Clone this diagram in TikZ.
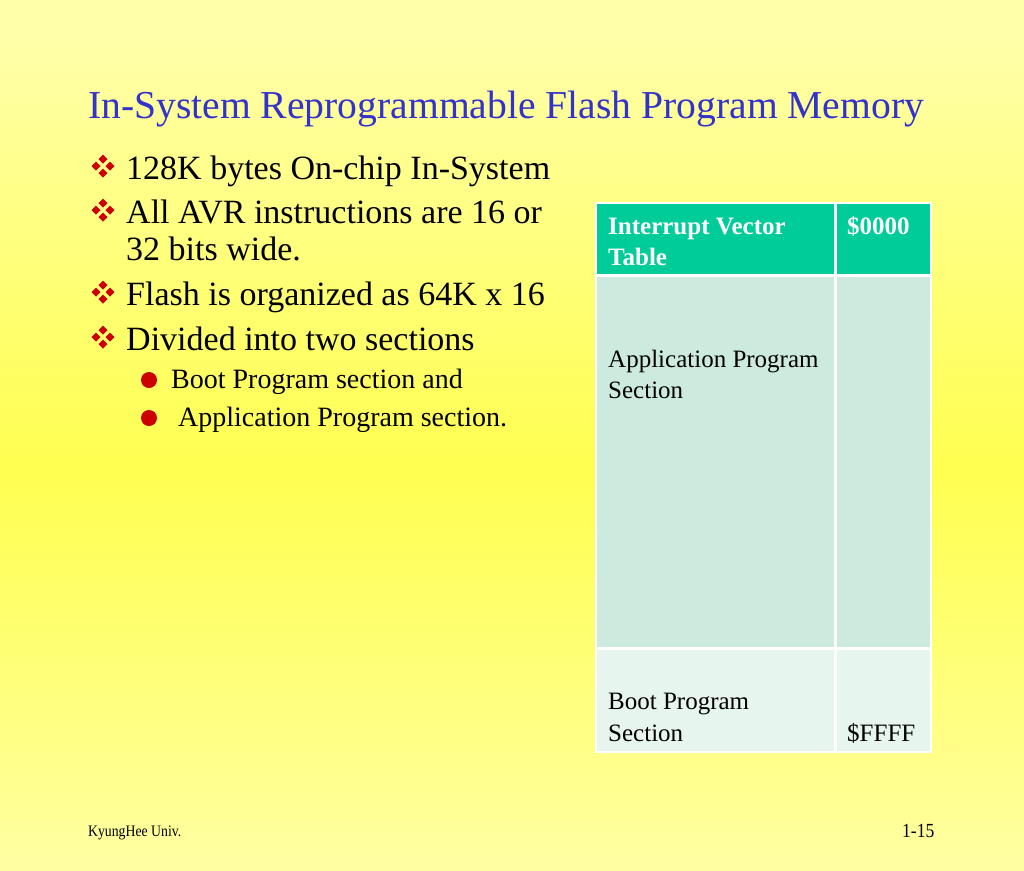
\documentclass[tikz,border=0pt]{standalone}
\usepackage{fontspec}
\setmainfont{Liberation Serif}
\definecolor{slideblue}{RGB}{51,51,204}
\definecolor{bulletred}{RGB}{204,0,0}
\definecolor{hdrgreen}{RGB}{0,204,153}
\definecolor{appgreen}{RGB}{204,234,222}
\definecolor{bootgreen}{RGB}{230,245,238}
\definecolor{bgpale}{RGB}{255,255,170}
\definecolor{bgdeep}{RGB}{255,255,80}
\tikzset{
  txt/.style={anchor=base west, inner sep=0pt},
  bigtxt/.style={txt, font=\fontsize{34}{40}\selectfont},
  subtxt/.style={txt, font=\fontsize{28}{32}\selectfont},
  celltxt/.style={txt, font=\fontsize{25}{31}\selectfont},
}
\begin{document}
\begin{tikzpicture}[x=1pt,y=-1pt]
        \useasboundingbox (0,0) rectangle (1024,870);
        % background, pale at top and bottom, deep in the middle
        \foreach \i in {0,...,86} {
            \pgfmathsetmacro\m{min(100,abs(\i*10+5-470)/4.4)}
            \fill[bgpale!\m!bgdeep] (0,\i*10) rectangle (1024,\i*10+10.6);
        }

        % title
        \node[txt, font=\fontsize{39.6}{46}\selectfont, text=slideblue] (title) at (88,118) {In-System Reprogrammable Flash Program Memory};

        % bullets
        \foreach \y in {166,210,292,337} {
            \foreach \dx/\dy in {0/-7,7/0,0/7,-7/0} {
                \fill[bulletred, shift={(103+\dx,\y+\dy)}] (0,-4.5) -- (4.5,0) -- (0,4.5) -- (-4.5,0) -- cycle;
            }
        }
        \node[bigtxt] (b1) at (126,179) {128K bytes On-chip In-System};
        \node[bigtxt] (b2) at (126,223) {All AVR instructions are 16 or};
        \node[bigtxt] (b2b) at (126,260) {32 bits wide.};
        \node[bigtxt] (b3) at (126,305) {Flash is organized as 64K x 16};
        \node[bigtxt] (b4) at (126,350) {Divided into two sections};

        \fill[bulletred] (149,380) circle (8);
        \fill[bulletred] (149,418) circle (8);
        \node[subtxt] (s1) at (171,388) {Boot Program section and};
        \node[subtxt] (s2) at (178,426) {Application Program section.};

        % memory map
        \fill[white] (595,202) rectangle (932,753);
        \fill[hdrgreen] (597,204) rectangle (834,274);
        \fill[hdrgreen] (837,204) rectangle (930,274);
        \fill[appgreen] (597,277) rectangle (834,647);
        \fill[appgreen] (837,277) rectangle (930,647);
        \fill[bootgreen] (597,650) rectangle (834,751);
        \fill[bootgreen] (837,650) rectangle (930,751);

        \node[celltxt, text=white, font=\fontsize{25}{31}\selectfont\bfseries] (ivt1) at (608,234) {Interrupt Vector};
        \node[celltxt, text=white, font=\fontsize{25}{31}\selectfont\bfseries] (ivt2) at (608,265) {Table};
        \node[celltxt, text=white, font=\fontsize{25}{31}\selectfont\bfseries] (start) at (847,234) {\$0000};
        \node[celltxt] (app1) at (608,367) {Application Program};
        \node[celltxt] (app2) at (608,398) {Section};
        \node[celltxt] (boot1) at (608,709) {Boot Program};
        \node[celltxt] (boot2) at (608,741) {Section};
        \node[celltxt] (end) at (847,741) {\$FFFF};

        % footer
        \node[txt, font=\fontsize{16}{18}\selectfont, xscale=0.86] (univ) at (88,836) {KyungHee Univ.};
        \node[txt, font=\fontsize{20}{22}\selectfont, xscale=0.88] (page) at (902,837) {1-15};
    \end{tikzpicture}
\end{document}
